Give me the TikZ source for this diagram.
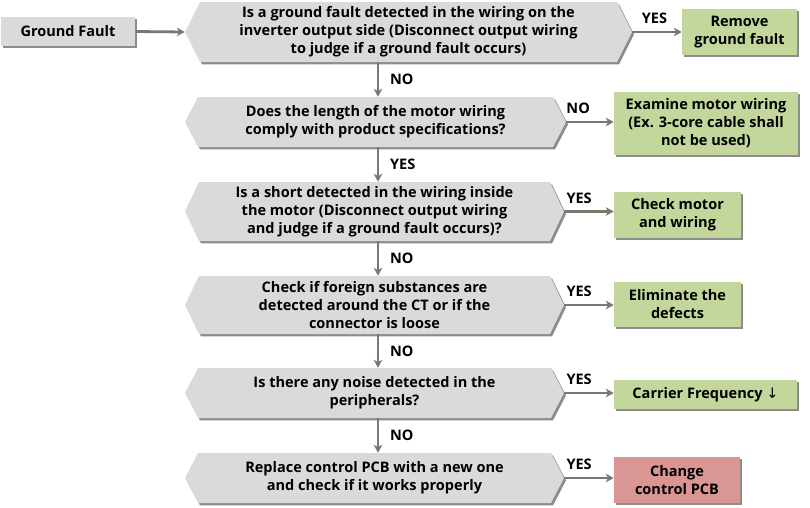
\documentclass[tikz,border=0pt]{standalone}
\usepackage{fontspec}
\setmainfont{Open Sans}
\newfontfamily\symfont{DejaVu Sans}
\usetikzlibrary{arrows.meta}
\definecolor{decfill}{HTML}{DADADA}
\definecolor{shadowc}{HTML}{8C8C8C}
\definecolor{greenfill}{HTML}{C3D69B}
\definecolor{redfill}{HTML}{D99694}
\definecolor{arrowc}{HTML}{7D7770}
\tikzset{
  txt/.style={font=\fontsize{10.9}{13.5}\selectfont\bfseries, text=black, align=center, inner sep=0pt},
  shadowed/.style={preaction={fill=shadowc, transform canvas={xshift=1.5pt,yshift=-1.8pt}}},
  decshape/.style={fill=decfill, shadowed},
  resbox/.style={txt, shadowed, rectangle},
  conn/.style={draw=arrowc, line width=2.1pt, -{Stealth[length=6pt,width=6.5pt,inset=1.8pt]}},
  lbl/.style={txt}
}
\newcommand\decision[7]{%
  \pgfmathsetmacro\dcx{(#2+#3)/2}%
  \pgfmathsetmacro\dcy{(#4+#5)/2}%
  \pgfmathsetmacro\dw{(#3-#2)*0.75}%
  \pgfmathsetmacro\dh{(#5-#4)*0.75}%
  \path[decshape] (#2,\dcy) -- (#2+#6,#4) -- (#3-#6,#4) -- (#3,\dcy) -- (#3-#6,#5) -- (#2+#6,#5) -- cycle;
  \node[txt, minimum width=\dw pt, minimum height=\dh pt] (#1) at (\dcx,\dcy) {#7};
}
\begin{document}
\begin{tikzpicture}[x=0.75pt,y=-0.75pt]
\useasboundingbox (0,0) rectangle (810,507);
\coordinate (vx) at (378,0);
% start
\node[resbox, fill=decfill, minimum width=100.5pt, minimum height=21.75pt] (gf) at (68,31.5) {Ground Fault};
% decisions
\decision{d1}{185}{632}{2}{62}{15}{Is a ground fault detected in the wiring on the\\inverter output side (Disconnect output wiring\\to judge if a ground fault occurs)}
\decision{d2}{185}{566}{97}{147}{13}{Does the length of the motor wiring\\comply with product specifications?}
\decision{d3}{185}{564}{182}{241}{14}{Is a short detected in the wiring inside\\the motor (Disconnect output wiring\\and judge if a ground fault occurs)?}
\decision{d4}{185}{564}{276}{334}{14}{Check if foreign substances are\\detected around the CT or if the\\connector is loose}
\decision{d5}{185}{564}{368}{418}{13}{Is there any noise detected in the\\peripherals?}
\decision{d6}{185}{564}{453}{503}{13}{Replace control PCB with a new one\\and check if it works properly}
% results
\node[resbox, fill=greenfill, minimum width=86.25pt, minimum height=34.5pt] (r1) at (739.5,32) {Remove\\ground fault};
\node[resbox, fill=greenfill, minimum width=138pt, minimum height=47.25pt] (r2) at (706,123.5) {Examine motor wiring\\(Ex. 3-core cable shall\\not be used)};
\node[resbox, fill=greenfill, minimum width=95.25pt, minimum height=34.5pt] (r3) at (677.5,215) {Check motor\\and wiring};
\node[resbox, fill=greenfill, minimum width=95.25pt, minimum height=33.75pt] (r4) at (677.5,304.5) {Eliminate the\\defects};
\node[resbox, fill=greenfill, minimum width=137.25pt, minimum height=21.75pt] (r5) at (705.5,394.5) {Carrier Frequency {\symfont\mdseries ↓}};
\node[resbox, fill=redfill, minimum width=94.5pt, minimum height=34.5pt] (r6) at (677,480) {Change\\control PCB};
% connectors
\draw[conn] (gf.east) -- (d1.west);
\draw[conn] (d1.east) -- node[lbl, pos=0.45, above=5pt] (y1) {YES} (d1.east -| r1.west);
\draw[conn] (d2.east) -- node[lbl, pos=0.25, above=5pt] (n2) {NO} (d2.east -| r2.west);
\draw[conn] (d3.east) -- node[lbl, pos=0.3, above=5pt] (y3) {YES} (d3.east -| r3.west);
\draw[conn] (d4.east) -- node[lbl, pos=0.3, above=5pt] (y4) {YES} (d4.east -| r4.west);
\draw[conn] (d5.east) -- node[lbl, pos=0.3, above=5pt] (y5) {YES} (d5.east -| r5.west);
\draw[conn] (d6.east) -- node[lbl, pos=0.3, above=5pt] (y6) {YES} (d6.east -| r6.west);
\draw[conn] (d1.south -| vx) -- node[lbl, anchor=west, xshift=8pt] (n1) {NO} (d2.north -| vx);
\draw[conn] (d2.south -| vx) -- node[lbl, anchor=west, xshift=8pt] (yy2) {YES} (d3.north -| vx);
\draw[conn] (d3.south -| vx) -- node[lbl, anchor=west, xshift=8pt] (n3) {NO} (d4.north -| vx);
\draw[conn] (d4.south -| vx) -- node[lbl, anchor=west, xshift=8pt] (n4) {NO} (d5.north -| vx);
\draw[conn] (d5.south -| vx) -- node[lbl, anchor=west, xshift=8pt] (n5) {NO} (d6.north -| vx);
\end{tikzpicture}
\end{document}
